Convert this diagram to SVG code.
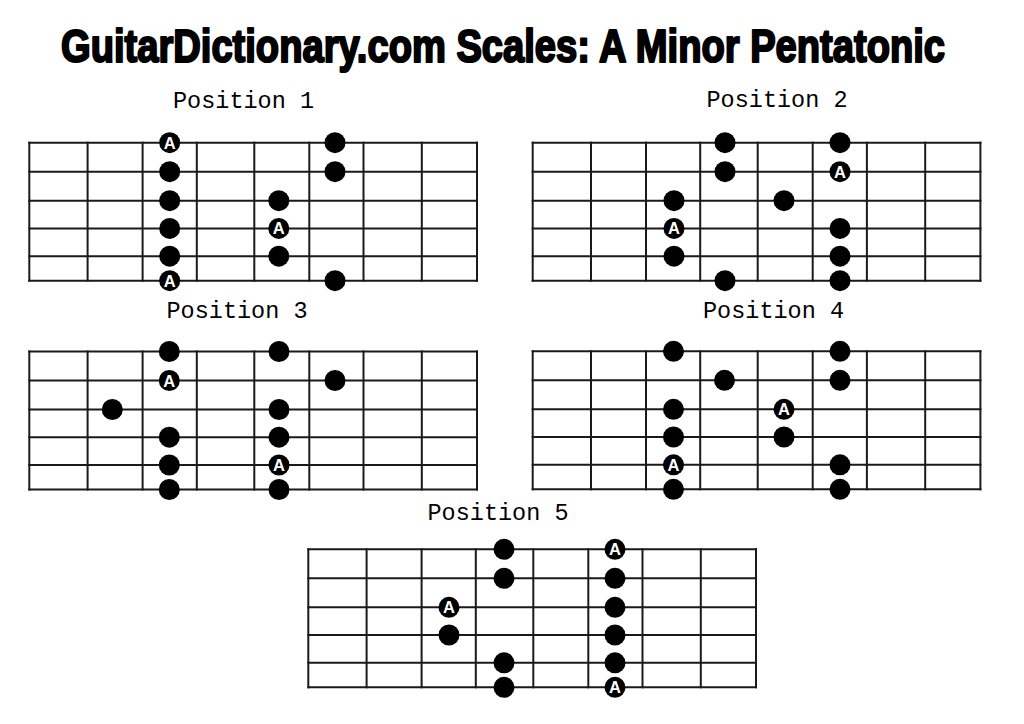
<svg xmlns="http://www.w3.org/2000/svg" xmlns:xlink="http://www.w3.org/1999/xlink" width="1024" height="724" viewBox="0 0 1024 724">
<style>
.grid line{stroke:#1a1a1a;stroke-width:2;stroke-linecap:square}
.lbl{font-family:"Liberation Mono","Courier New",monospace;font-size:23.5px;fill:#000;text-anchor:middle}
.title{font-family:"Liberation Sans",Arial,sans-serif;font-weight:bold;font-size:47px;fill:#000;stroke:#000;stroke-width:2.2;stroke-linejoin:round}
.dot{fill:#000}
.rt{font-family:"Liberation Sans",Arial,sans-serif;font-weight:bold;font-size:16.5px;fill:#fff;text-anchor:middle}
</style>
<defs>
<g id="grid" class="grid">
<line x1="0" y1="0" x2="447.7" y2="0"/>
<line x1="0" y1="29" x2="447.7" y2="29"/>
<line x1="0" y1="58" x2="447.7" y2="58"/>
<line x1="0" y1="85.7" x2="447.7" y2="85.7"/>
<line x1="0" y1="113.5" x2="447.7" y2="113.5"/>
<line x1="0" y1="138" x2="447.7" y2="138"/>
<line x1="0" y1="0" x2="0" y2="138"/>
<line x1="58.3" y1="0" x2="58.3" y2="138"/>
<line x1="113.3" y1="0" x2="113.3" y2="138"/>
<line x1="167.5" y1="0" x2="167.5" y2="138"/>
<line x1="225" y1="0" x2="225" y2="138"/>
<line x1="280" y1="0" x2="280" y2="138"/>
<line x1="334.2" y1="0" x2="334.2" y2="138"/>
<line x1="392.5" y1="0" x2="392.5" y2="138"/>
<line x1="447.7" y1="0" x2="447.7" y2="138"/>
</g>
<circle id="d" class="dot" r="10.5"/>
<g id="a"><circle class="dot" r="10.5"/><text class="rt" x="0" y="6">A</text></g>
</defs>
<rect width="1024" height="724" fill="#fff"/>
<text class="title" x="61" y="61.7" textLength="884" lengthAdjust="spacingAndGlyphs">GuitarDictionary.com Scales: A Minor Pentatonic</text>

<g id="position1">
<text class="lbl" x="243.5" y="107.7">Position 1</text>
<g transform="translate(29.3,142.7)">
<use xlink:href="#grid"/>
<use xlink:href="#a" x="140.4" y="0"/><use xlink:href="#d" x="305.7" y="0"/>
<use xlink:href="#d" x="140.4" y="29"/><use xlink:href="#d" x="305.7" y="29"/>
<use xlink:href="#d" x="140.4" y="58"/><use xlink:href="#d" x="249.5" y="58"/>
<use xlink:href="#d" x="140.4" y="85.7"/><use xlink:href="#a" x="249.5" y="85.7"/>
<use xlink:href="#d" x="140.4" y="113.5"/><use xlink:href="#d" x="249.5" y="113.5"/>
<use xlink:href="#a" x="140.4" y="138"/><use xlink:href="#d" x="305.7" y="138"/>
</g>
</g>

<g id="position2">
<text class="lbl" x="777" y="106.7">Position 2</text>
<g transform="translate(532.7,142.7)">
<use xlink:href="#grid"/>
<use xlink:href="#d" x="192.3" y="0"/><use xlink:href="#d" x="307.3" y="0"/>
<use xlink:href="#d" x="192.3" y="29"/><use xlink:href="#a" x="307.3" y="29"/>
<use xlink:href="#d" x="141.3" y="58"/><use xlink:href="#d" x="251.3" y="58"/>
<use xlink:href="#a" x="141.3" y="85.7"/><use xlink:href="#d" x="307.3" y="85.7"/>
<use xlink:href="#d" x="141.3" y="113.5"/><use xlink:href="#d" x="307.3" y="113.5"/>
<use xlink:href="#d" x="192.3" y="138"/><use xlink:href="#d" x="307.3" y="138"/>
</g>
</g>

<g id="position3">
<text class="lbl" x="237" y="317.7">Position 3</text>
<g transform="translate(29.3,351.5)">
<use xlink:href="#grid"/>
<use xlink:href="#d" x="140" y="0"/><use xlink:href="#d" x="249.7" y="0"/>
<use xlink:href="#a" x="140" y="29"/><use xlink:href="#d" x="305.7" y="29"/>
<use xlink:href="#d" x="83" y="58"/><use xlink:href="#d" x="249.7" y="58"/>
<use xlink:href="#d" x="140" y="85.7"/><use xlink:href="#d" x="249.7" y="85.7"/>
<use xlink:href="#d" x="140" y="113.5"/><use xlink:href="#a" x="249.7" y="113.5"/>
<use xlink:href="#d" x="140" y="138"/><use xlink:href="#d" x="249.7" y="138"/>
</g>
</g>

<g id="position4">
<text class="lbl" x="773.5" y="317.7">Position 4</text>
<g transform="translate(532.7,351.3)">
<use xlink:href="#grid"/>
<use xlink:href="#d" x="140.8" y="0"/><use xlink:href="#d" x="307.3" y="0"/>
<use xlink:href="#d" x="191.8" y="29"/><use xlink:href="#d" x="307.3" y="29"/>
<use xlink:href="#d" x="140.8" y="58"/><use xlink:href="#a" x="251.3" y="58"/>
<use xlink:href="#d" x="140.8" y="85.7"/><use xlink:href="#d" x="251.3" y="85.7"/>
<use xlink:href="#a" x="140.8" y="113.5"/><use xlink:href="#d" x="307.3" y="113.5"/>
<use xlink:href="#d" x="140.8" y="138"/><use xlink:href="#d" x="307.3" y="138"/>
</g>
</g>

<g id="position5">
<text class="lbl" x="498" y="520">Position 5</text>
<g transform="translate(308.3,549.3)">
<use xlink:href="#grid"/>
<use xlink:href="#d" x="195.7" y="0"/><use xlink:href="#a" x="306.7" y="0"/>
<use xlink:href="#d" x="195.7" y="29"/><use xlink:href="#d" x="306.7" y="29"/>
<use xlink:href="#a" x="140.7" y="58"/><use xlink:href="#d" x="306.7" y="58"/>
<use xlink:href="#d" x="140.7" y="85.7"/><use xlink:href="#d" x="306.7" y="85.7"/>
<use xlink:href="#d" x="195.7" y="113.5"/><use xlink:href="#d" x="306.7" y="113.5"/>
<use xlink:href="#d" x="195.7" y="138"/><use xlink:href="#a" x="306.7" y="138"/>
</g>
</g>
</svg>
